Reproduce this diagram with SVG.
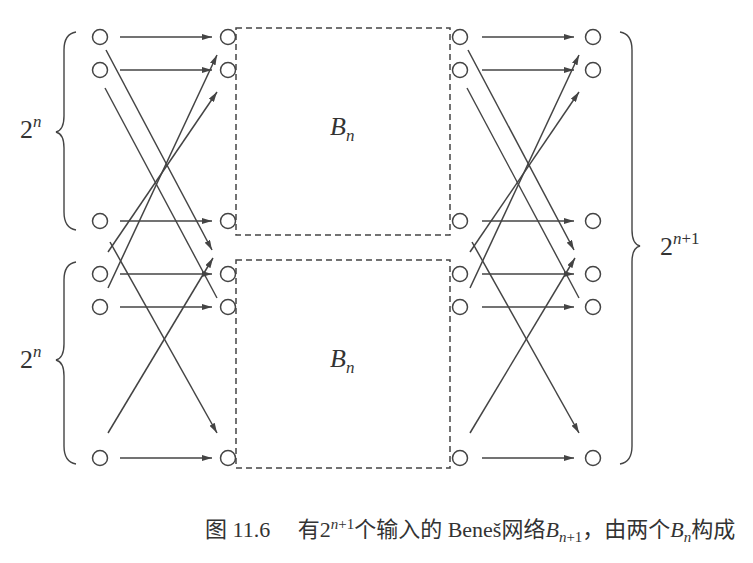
<svg xmlns="http://www.w3.org/2000/svg" width="753" height="563" viewBox="0 0 753 563">
<defs>
<marker id="ah" viewBox="0 0 10 6" refX="10" refY="3" markerWidth="10" markerHeight="6" markerUnits="userSpaceOnUse" orient="auto"><path d="M0,0 L10,3 L0,6 z" fill="#444"/></marker>
<style>
.n{fill:#fff;stroke:#444;stroke-width:1.5}
.e{stroke:#444;stroke-width:1.5;fill:none;marker-end:url(#ah)}
.d{fill:none;stroke:#444;stroke-width:1.5;stroke-dasharray:6,4}
.b{fill:none;stroke:#444;stroke-width:1.4}
.t{font-family:"Liberation Serif",serif;font-size:26px;fill:#333}
.c{font-family:"Liberation Serif","Noto Sans CJK SC",serif;font-size:22px;fill:#333}
</style>
</defs>
<g id="boxes">
<rect class="d" x="236" y="28" width="214" height="207"/>
<rect class="d" x="236" y="260" width="214" height="208"/>
<text class="t" x="330" y="135" font-style="italic">B<tspan font-size="17" dy="6">n</tspan></text>
<text class="t" x="330" y="367" font-style="italic">B<tspan font-size="17" dy="6">n</tspan></text>
</g>
<g id="connectors">
<g id="leftEdges">
<line class="e" x1="120" y1="37" x2="212" y2="37"/>
<line class="e" x1="120" y1="70" x2="212" y2="70"/>
<line class="e" x1="120" y1="221" x2="212" y2="221"/>
<line class="e" x1="120" y1="274" x2="212" y2="274"/>
<line class="e" x1="120" y1="307" x2="212" y2="307"/>
<line class="e" x1="120" y1="458" x2="212" y2="458"/>
<line class="e" x1="106" y1="50" x2="212" y2="250"/>
<line class="b" x1="105" y1="88" x2="217" y2="298"/>
<line class="e" x1="108" y1="288" x2="217" y2="55"/>
<line class="e" x1="108" y1="252" x2="217" y2="92"/>
<line class="e" x1="110" y1="242" x2="217" y2="433"/>
<line class="e" x1="108" y1="433" x2="213" y2="258"/>
</g>
<g id="rightEdges" transform="translate(362,0)">
<line class="e" x1="120" y1="37" x2="212" y2="37"/>
<line class="e" x1="120" y1="70" x2="212" y2="70"/>
<line class="e" x1="120" y1="221" x2="212" y2="221"/>
<line class="e" x1="120" y1="274" x2="212" y2="274"/>
<line class="e" x1="120" y1="307" x2="212" y2="307"/>
<line class="e" x1="120" y1="458" x2="212" y2="458"/>
<line class="e" x1="106" y1="50" x2="212" y2="250"/>
<line class="b" x1="105" y1="88" x2="217" y2="298"/>
<line class="e" x1="108" y1="288" x2="217" y2="55"/>
<line class="e" x1="108" y1="252" x2="217" y2="92"/>
<line class="e" x1="110" y1="242" x2="217" y2="433"/>
<line class="e" x1="108" y1="433" x2="213" y2="258"/>
</g>
</g>
<g id="nodes">
<g id="c1"><circle class="n" cx="100" cy="37" r="7.5"/><circle class="n" cx="100" cy="70" r="7.5"/><circle class="n" cx="100" cy="221" r="7.5"/><circle class="n" cx="100" cy="274" r="7.5"/><circle class="n" cx="100" cy="307" r="7.5"/><circle class="n" cx="100" cy="458" r="7.5"/></g>
<g id="c2"><circle class="n" cx="228" cy="37" r="7.5"/><circle class="n" cx="228" cy="70" r="7.5"/><circle class="n" cx="228" cy="221" r="7.5"/><circle class="n" cx="228" cy="274" r="7.5"/><circle class="n" cx="228" cy="307" r="7.5"/><circle class="n" cx="228" cy="458" r="7.5"/></g>
<g id="c3"><circle class="n" cx="460" cy="37" r="7.5"/><circle class="n" cx="460" cy="70" r="7.5"/><circle class="n" cx="460" cy="221" r="7.5"/><circle class="n" cx="460" cy="274" r="7.5"/><circle class="n" cx="460" cy="307" r="7.5"/><circle class="n" cx="460" cy="458" r="7.5"/></g>
<g id="c4"><circle class="n" cx="593" cy="37" r="7.5"/><circle class="n" cx="593" cy="70" r="7.5"/><circle class="n" cx="593" cy="221" r="7.5"/><circle class="n" cx="593" cy="274" r="7.5"/><circle class="n" cx="593" cy="307" r="7.5"/><circle class="n" cx="593" cy="458" r="7.5"/></g>
</g>
<g id="braces">
<path class="b" d="M76,32 Q64,34 64,50 L64,116 Q64,130 56,132 Q64,134 64,148 L64,212 Q64,228 76,230"/>
<path class="b" d="M76,262 Q64,264 64,280 L64,344 Q64,358 56,360 Q64,362 64,376 L64,446 Q64,462 76,464"/>
<path class="b" d="M620,32 Q632,34 632,50 L632,230 Q632,244 640,246 Q632,248 632,262 L632,446 Q632,462 620,464"/>
<text class="t" x="20" y="138">2<tspan font-size="17" dy="-11" font-style="italic">n</tspan></text>
<text class="t" x="20" y="368">2<tspan font-size="17" dy="-11" font-style="italic">n</tspan></text>
<text class="t" x="660" y="255">2<tspan font-size="17" dy="-11" font-style="italic">n</tspan><tspan font-size="17">+1</tspan></text>
</g>
<text class="c" x="205" y="537">图 11.6　 有2<tspan font-size="15" dy="-8" font-style="italic">n</tspan><tspan font-size="15">+1</tspan><tspan dy="8">个输入的 Beneš网络</tspan><tspan font-style="italic">B</tspan><tspan font-size="15" dy="5" font-style="italic">n</tspan><tspan font-size="15">+1</tspan><tspan dy="-5">，由两个</tspan><tspan font-style="italic">B</tspan><tspan font-size="15" dy="5" font-style="italic">n</tspan><tspan dy="-5">构成</tspan></text>
</svg>
